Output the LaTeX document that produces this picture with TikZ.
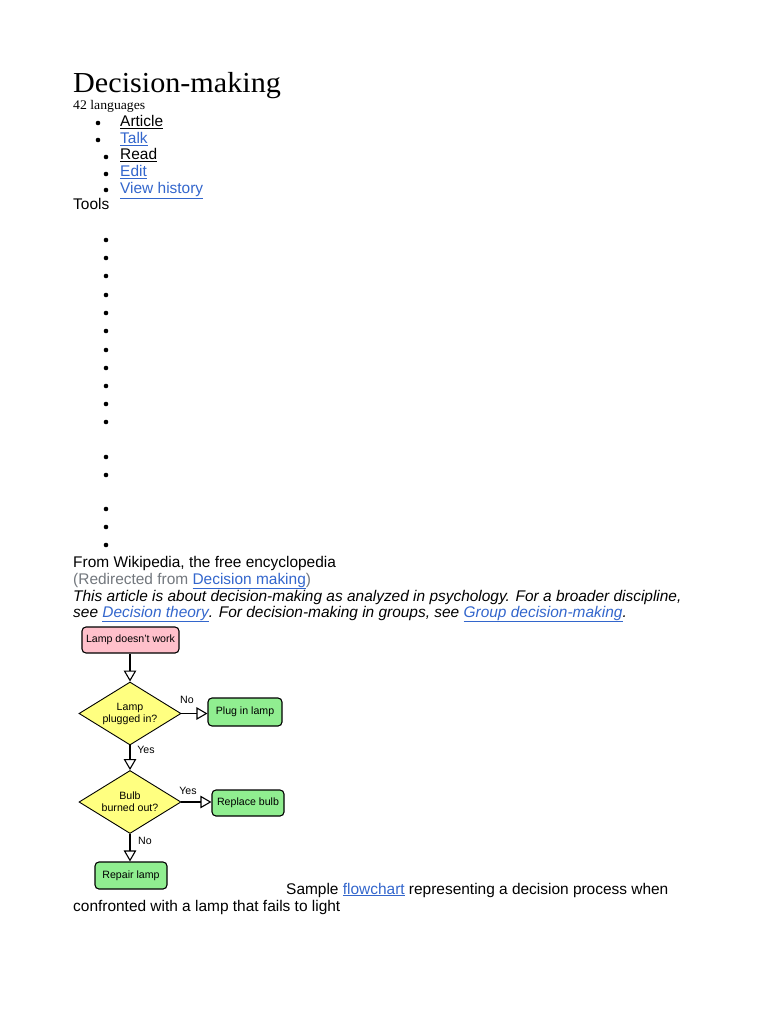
\documentclass[tikz,border=0pt]{standalone}
\usepackage{fontspec}
\setmainfont{Liberation Sans}
\newfontfamily\serifft[FakeStretch=1.04]{Liberation Serif}
\usetikzlibrary{arrows.meta,shapes.geometric}
\definecolor{link}{HTML}{3366CC}
\definecolor{greytxt}{HTML}{72777D}
\definecolor{pinkbox}{HTML}{FFC0CB}
\definecolor{yellowd}{HTML}{FFFF80}
\definecolor{greenbox}{HTML}{90EE90}
\tikzset{
  txt/.style={anchor=base west,inner sep=0pt,font=\fontsize{15.45}{18}\selectfont},
  dot/.style={circle,fill=black,inner sep=0pt,minimum size=4.6pt},
  fbox/.style={draw,line width=1.1pt,rounded corners=4pt,inner sep=0pt,font=\fontsize{10.6}{12}\selectfont},
  fdia/.style={diamond,draw,line width=0.9pt,fill=yellowd,inner sep=0pt,minimum width=102pt,minimum height=63pt,aspect=1.62,align=center,font=\fontsize{10.6}{12}\selectfont},
  farr/.style={line width=1.2pt,-{Triangle[length=11pt,width=12.5pt,fill=white,line width=1.1pt]}},
  flab/.style={inner sep=0pt,font=\fontsize{10.6}{12}\selectfont}
}
\newcommand{\lnk}[1]{\textcolor{link}{\underline{#1}}}
\begin{document}
\begin{tikzpicture}[x=1pt,y=-1pt]
\useasboundingbox (0,0) rectangle (768,1024);
% header
\node[anchor=base west,inner sep=0pt,font=\serifft\fontsize{29}{31}\selectfont] (title) at (73,93) {Decision-making};
\node[anchor=base west,inner sep=0pt,font=\serifft\fontsize{13.2}{15}\selectfont] (lang) at (73,110) {42 languages};
\node[dot] (b1) at (98,123) {};
\node[dot] (b2) at (98,140) {};
\node[dot] (b3) at (106,157) {};
\node[dot] (b4) at (106,174) {};
\node[dot] (b5) at (106,190) {};
\node[txt] (t1) at (120,127) {\underline{Article}};
\node[txt] (t2) at (120,144) {\lnk{Talk}};
\node[txt] (t3) at (120,160) {\underline{Read}};
\node[txt] (t4) at (120,177) {\lnk{Edit}};
\node[txt] (t5) at (120,194) {\lnk{View history}};
\node[txt] (tools) at (73,210) {Tools};
\foreach \yy [count=\i] in {240,258,276,295,313,331,350,368,386,404,422,457,475,509,527,545}
  \node[dot] (tb\i) at (106,\yy) {};
% intro text
\node[txt] (from) at (73,567) {From Wikipedia, the free encyclopedia};
\node[txt,text=greytxt] (redir) at (73,584) {(Redirected from \lnk{Decision making})};
\node[txt] (it1) at (73,601) {\itshape This article is about decision-making as analyzed in psychology. For a broader discipline,};
\node[txt] (it2) at (73,617) {\itshape see \lnk{Decision theory}. For decision-making in groups, see \lnk{Group decision-making}.};
% flowchart
\node[fbox,fill=pinkbox,minimum width=97pt,minimum height=26pt] (lamp) at (130.5,640) {Lamp doesn't work};
\node[fdia] (d1) at (130,713.5) {Lamp\\plugged in?};
\node[fbox,fill=greenbox,minimum width=74pt,minimum height=28pt] (plug) at (245,712) {Plug in lamp};
\node[fdia] (d2) at (130,802) {Bulb\\burned out?};
\node[fbox,fill=greenbox,minimum width=72pt,minimum height=26pt] (repl) at (248,803) {Replace bulb};
\node[fbox,fill=greenbox,minimum width=72pt,minimum height=27pt] (repair) at (131,875.5) {Repair lamp};
\draw[farr] (lamp.south -| d1.north) -- (d1.north);
\draw[farr] (d1.east) -- (plug.west |- d1.east);
\draw[farr] (d1.south) -- (d2.north);
\draw[farr] (d2.east) -- (repl.west |- d2.east);
\draw[farr] (d2.south) -- (repair.north -| d2.south);
\node[flab] (lno1) at (187,700) {No};
\node[flab] (lyes1) at (146,749.5) {Yes};
\node[flab] (lyes2) at (188,791) {Yes};
\node[flab] (lno2) at (145,841) {No};
% caption
\node[txt] (cap1) at (286,894) {Sample \lnk{flowchart} representing a decision process when};
\node[txt] (cap2) at (73,911) {confronted with a lamp that fails to light};
\end{tikzpicture}
\end{document}
